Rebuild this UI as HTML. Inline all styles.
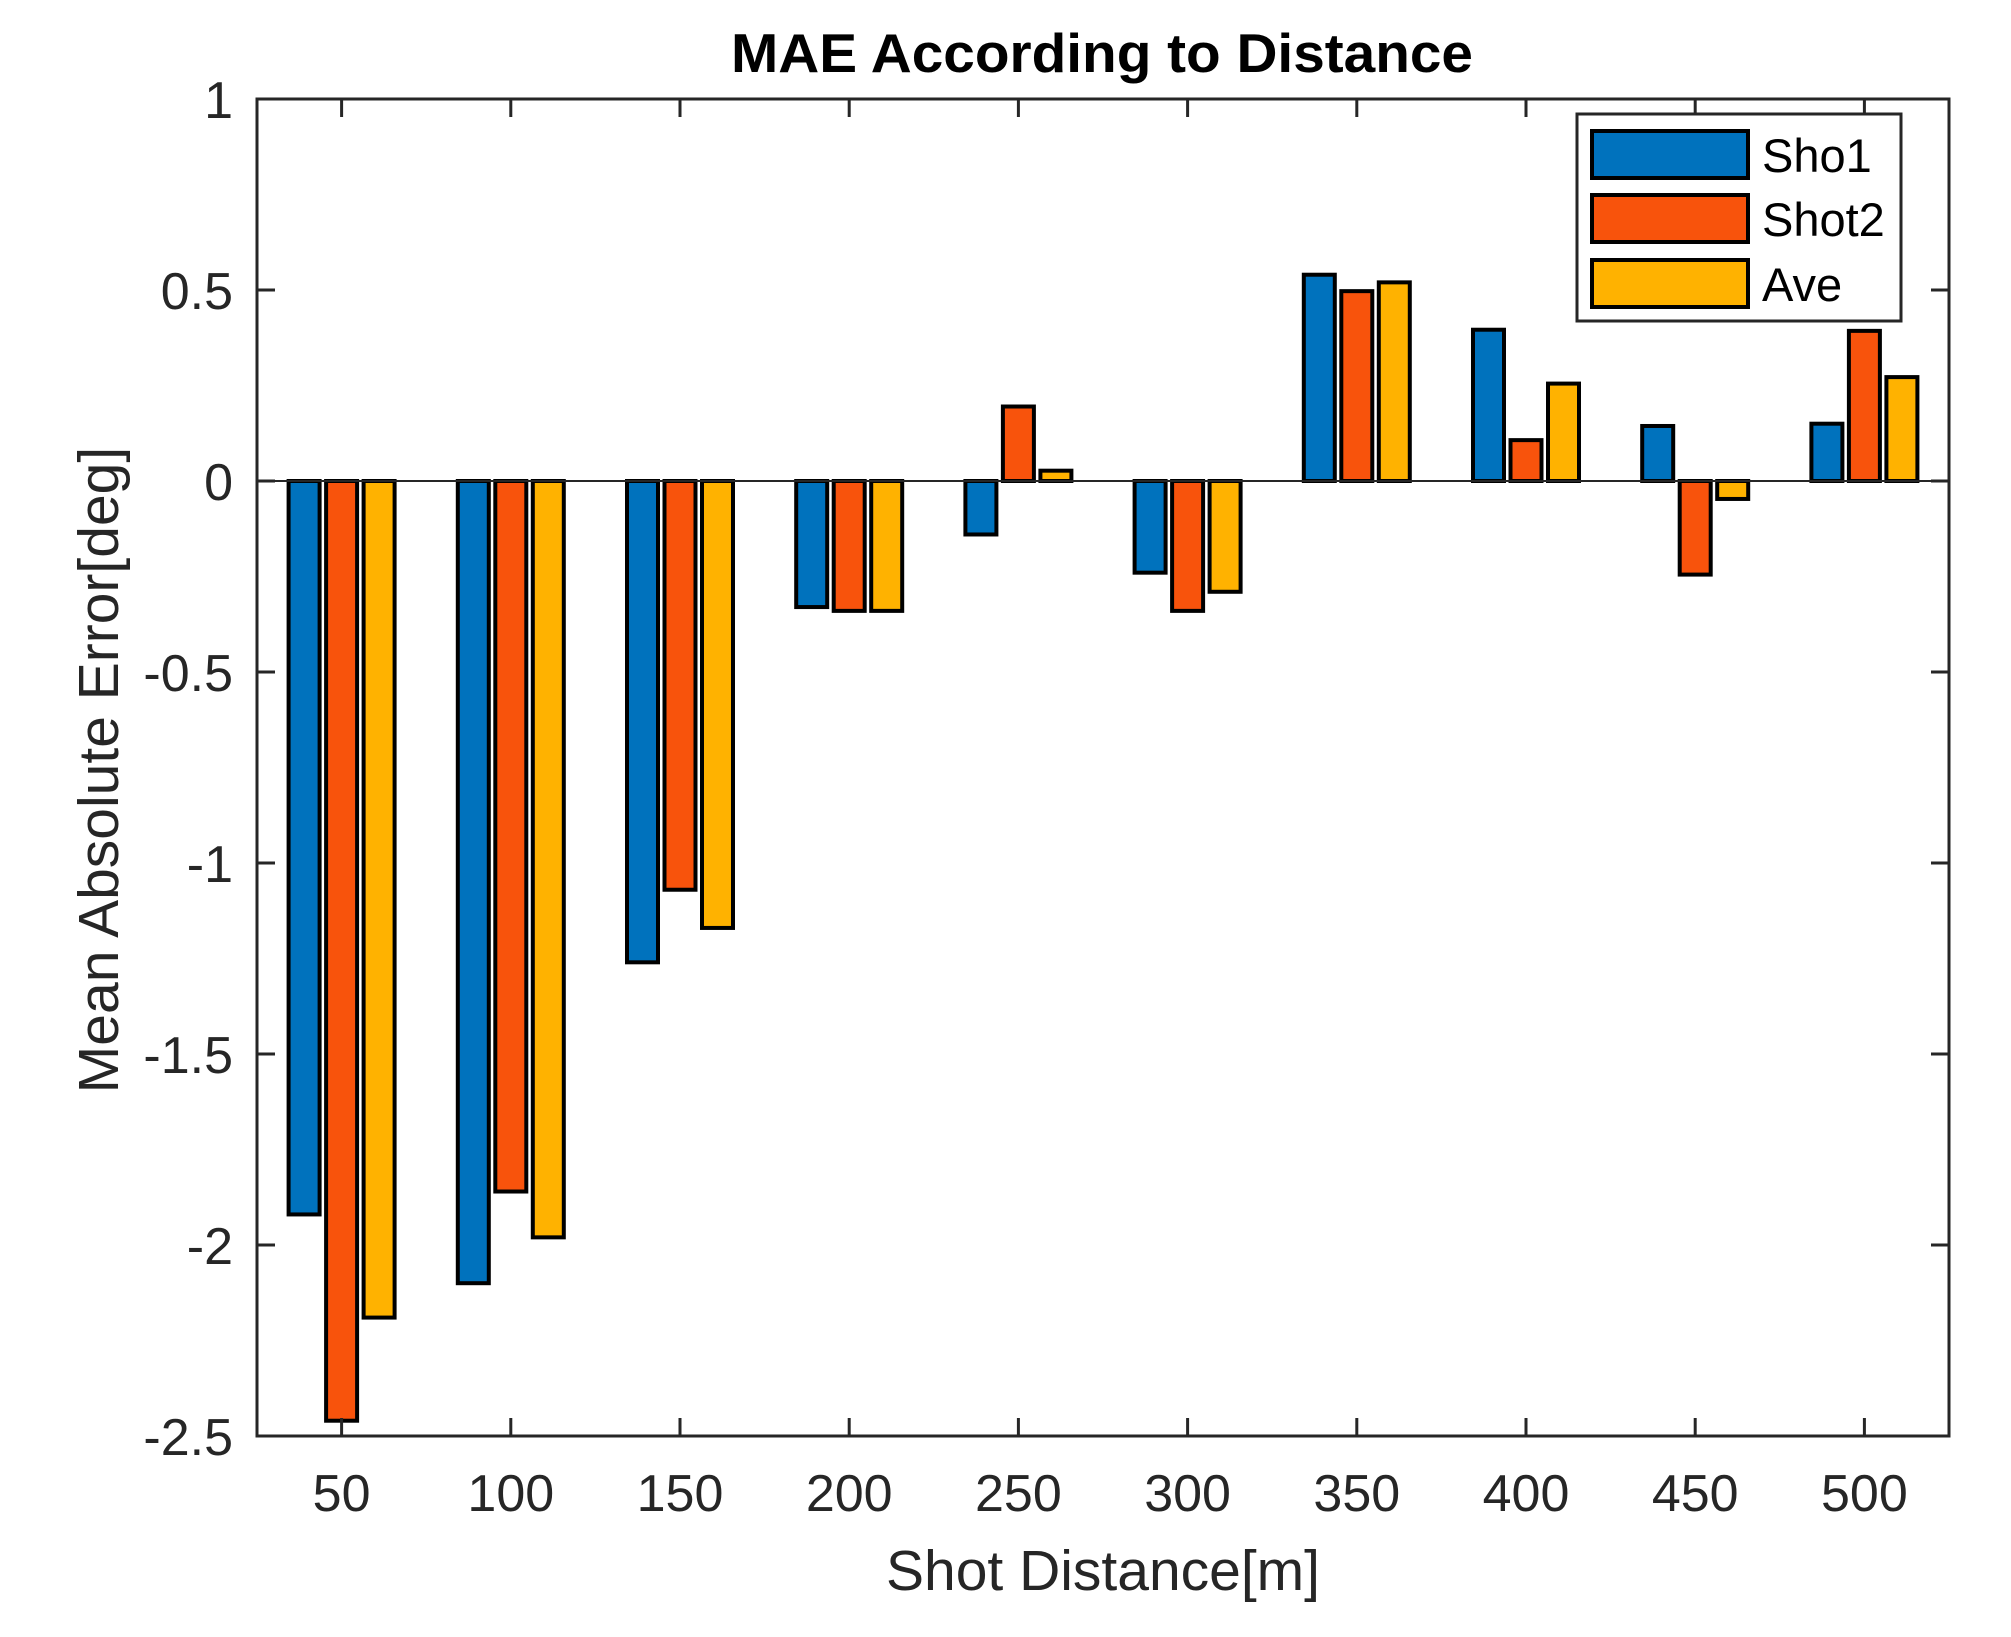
<!DOCTYPE html>
<html><head><meta charset="utf-8"><style>html,body{margin:0;padding:0;background:#fff;}svg{display:block}</style></head>
<body>
<svg width="2011" height="1637" viewBox="0 0 2011 1637" xmlns="http://www.w3.org/2000/svg" font-family="Liberation Sans, Arial, sans-serif">
<rect width="2011" height="1637" fill="#fff"/>
<text x="1102" y="72" font-size="55" font-weight="bold" text-anchor="middle" textLength="742" lengthAdjust="spacingAndGlyphs" fill="#000">MAE According to Distance</text>
<g id="bars" stroke="#000" stroke-width="4"></g>
<line x1="257" y1="481" x2="1949" y2="481" stroke="#262626" stroke-width="2"/>
<rect x="257" y="99" width="1692" height="1337" fill="none" stroke="#262626" stroke-width="3"/>
<g id="ticks" stroke="#262626" stroke-width="3"></g>
<g id="labels" fill="#262626" font-size="52"></g>
<text x="1103" y="1590" font-size="57" text-anchor="middle" fill="#262626">Shot Distance[m]</text>
<text transform="translate(118,770) rotate(-90)" font-size="57" text-anchor="middle" fill="#262626">Mean Absolute Error[deg]</text>
<rect x="1577" y="114" width="324" height="207" fill="#fff" stroke="#262626" stroke-width="3"/>
<rect x="1592" y="131" width="156" height="47" fill="#0072BD" stroke="#000" stroke-width="4"/>
<rect x="1592" y="195" width="156" height="47" fill="#F8530C" stroke="#000" stroke-width="4"/>
<rect x="1592" y="260" width="156" height="47" fill="#FFB200" stroke="#000" stroke-width="4"/>
<text x="1762" y="172" font-size="47" fill="#000">Sho1</text>
<text x="1762" y="236" font-size="47" fill="#000">Shot2</text>
<text x="1762" y="301" font-size="47" fill="#000">Ave</text>
</svg>
<script>
(function(){
var ns="http://www.w3.org/2000/svg";
var data=[[-1.92,-2.46,-2.19],[-2.10,-1.86,-1.98],[-1.26,-1.07,-1.17],[-0.33,-0.34,-0.34],[-0.14,0.195,0.027],[-0.24,-0.34,-0.29],[0.54,0.497,0.52],[0.396,0.107,0.255],[0.144,-0.245,-0.047],[0.15,0.393,0.272]];
var cols=["#0072BD","#F8530C","#FFB200"];
var left=257,sp=169.2,z=481,u=382;
var g=document.getElementById("bars"),t=document.getElementById("ticks"),l=document.getElementById("labels");
function el(p,n,a,txt){var e=document.createElementNS(ns,n);for(var k in a)e.setAttribute(k,a[k]);if(txt)e.textContent=txt;p.appendChild(e);}
for(var i=0;i<10;i++){var cx=left+(i+0.5)*sp;
 for(var j=0;j<3;j++){var v=data[i][j];var bx=cx+(j-1)*37.5-15.5;var y0=z,y1=z-v*u;
  el(g,"rect",{x:bx,y:Math.min(y0,y1),width:31,height:Math.abs(y1-y0),fill:cols[j]});}
 el(t,"line",{x1:cx,y1:1436,x2:cx,y2:1418});el(t,"line",{x1:cx,y1:99,x2:cx,y2:117});
 el(l,"text",{x:cx,y:1511,"text-anchor":"middle"},String(50*(i+1)));}
var yt=[1,0.5,0,-0.5,-1,-1.5,-2,-2.5];
yt.forEach(function(v){var y=z-v*u;
 el(t,"line",{x1:257,y1:y,x2:275,y2:y});el(t,"line",{x1:1949,y1:y,x2:1931,y2:y});
 el(l,"text",{x:233,y:y+19,"text-anchor":"end"},String(v));});
})();
</script>
</body></html>
